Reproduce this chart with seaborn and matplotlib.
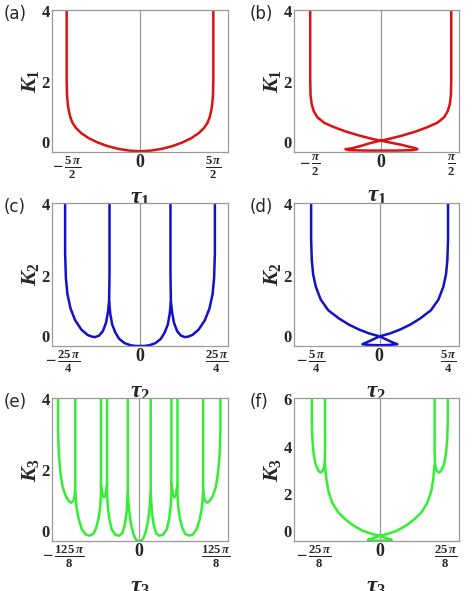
import numpy as np
import matplotlib
matplotlib.use("Agg")
import matplotlib.pyplot as plt
import seaborn as sns

sns.set_style("white")
plt.rcParams['font.family'] = ['DejaVu Sans']
plt.rcParams['mathtext.fontset'] = 'custom'
plt.rcParams['mathtext.rm'] = 'Liberation Serif:bold'
plt.rcParams['mathtext.it'] = 'Liberation Serif:bold:italic'
plt.rcParams['mathtext.bf'] = 'Liberation Serif:bold'

# curve data, x in units of the outer tick value
# (a) left half
a_x = [-1.0, -1.0, -0.995, -0.985, -0.97, -0.95, -0.92, -0.87, -0.8, -0.7, -0.58, -0.45, -0.3, -0.15, 0.0]
a_y = [4.0, 2.0, 1.6, 1.35, 1.15, 0.98, 0.82, 0.67, 0.53, 0.39, 0.27, 0.17, 0.09, 0.04, 0.02]

# (b) one continuous line: left branch -> right tip -> bottom -> left tip -> right branch
b_x = [-1.0, -1.0, -0.995, -0.98, -0.95, -0.9, -0.8, -0.65, -0.5, -0.3, -0.1, 0.0, 0.15, 0.3, 0.42, 0.5, 0.52,
       0.45, 0.2, 0.0, -0.2, -0.45, -0.5,
       -0.42, -0.3, -0.15, 0.0, 0.1, 0.3, 0.5, 0.65, 0.8, 0.9, 0.95, 0.98, 0.995, 1.0, 1.0]
b_y = [4.0, 2.0, 1.6, 1.35, 1.15, 0.98, 0.82, 0.69, 0.58, 0.46, 0.36, 0.32, 0.26, 0.2, 0.14, 0.1, 0.08,
       0.05, 0.04, 0.04, 0.04, 0.05, 0.08,
       0.1, 0.16, 0.25, 0.32, 0.36, 0.46, 0.58, 0.69, 0.82, 0.98, 1.15, 1.35, 1.6, 2.0, 4.0]

# (c) left-half pieces
c_outer_x = [-0.97, -0.97, -0.96, -0.94, -0.9, -0.84, -0.76, -0.68, -0.62, -0.58, -0.53, -0.48, -0.44, -0.415, -0.4, -0.395, -0.395]
c_outer_y = [4.0, 2.6, 1.9, 1.45, 1.05, 0.72, 0.46, 0.31, 0.26, 0.25, 0.29, 0.42, 0.65, 0.95, 1.25, 2.0, 4.0]
c_mid_x = [-0.4, -0.385, -0.36, -0.32, -0.27, -0.2, -0.12, -0.05, 0.0]
c_mid_y = [1.25, 0.9, 0.6, 0.38, 0.2, 0.08, 0.02, 0.0, 0.0]

# (d)
d_x = [-1.0, -1.0, -0.99, -0.97, -0.93, -0.86, -0.75, -0.6, -0.45, -0.3, -0.15, 0.0, 0.1, 0.18, 0.26,
       0.15, 0.0, -0.15, -0.25,
       -0.18, -0.1, 0.0, 0.15, 0.3, 0.45, 0.6, 0.75, 0.86, 0.93, 0.97, 0.99, 1.0, 1.0]
d_y = [4.0, 3.0, 2.4, 2.0, 1.65, 1.3, 1.0, 0.78, 0.6, 0.46, 0.35, 0.27, 0.18, 0.11, 0.05,
       0.03, 0.02, 0.03, 0.05,
       0.11, 0.18, 0.27, 0.35, 0.46, 0.6, 0.78, 1.0, 1.3, 1.65, 2.0, 2.4, 3.0, 4.0]

# (e) left-half pieces
e_p1_x = [-1.06, -1.06, -1.05, -1.03, -1.0, -0.96, -0.92, -0.89, -0.86, -0.845, -0.835, -0.835]
e_p1_y = [4.0, 3.0, 2.4, 1.9, 1.5, 1.25, 1.12, 1.07, 1.12, 1.25, 1.5, 4.0]
e_p2_x = [-0.835, -0.82, -0.79, -0.75, -0.7, -0.65, -0.6, -0.56, -0.53, -0.51, -0.5, -0.5]
e_p2_y = [1.4, 0.95, 0.6, 0.33, 0.18, 0.15, 0.2, 0.38, 0.65, 0.95, 1.3, 4.0]
e_p3_x = [-0.5, -0.48, -0.46, -0.44, -0.42]
e_p3_y = [1.6, 1.3, 1.22, 1.3, 1.6]
e_p4_x = [-0.42, -0.42, -0.41, -0.39, -0.36, -0.31, -0.26, -0.22, -0.19, -0.165, -0.15, -0.15]
e_p4_y = [4.0, 1.3, 0.95, 0.6, 0.33, 0.17, 0.15, 0.22, 0.45, 0.8, 1.4, 4.0]
e_p5_x = [-0.15, -0.135, -0.11, -0.08, -0.05, -0.02, 0.0]
e_p5_y = [1.4, 0.9, 0.5, 0.22, 0.06, 0.0, 0.0]

# (f)
f_top_x = [-1.03, -1.03, -1.02, -1.0, -0.97, -0.93, -0.9, -0.87, -0.85, -0.835, -0.83, -0.83]
f_top_y = [6.0, 5.0, 4.2, 3.6, 3.2, 2.95, 2.87, 2.92, 3.05, 3.3, 3.8, 6.0]
f_main_x = [-0.83, -0.81, -0.78, -0.72, -0.63, -0.52, -0.4, -0.26, -0.12, 0.0, 0.08, 0.14, 0.18,
            0.1, 0.0, -0.1, -0.18,
            -0.14, -0.08, 0.0, 0.12, 0.26, 0.4, 0.52, 0.63, 0.72, 0.78, 0.81, 0.83]
f_main_y = [3.2, 2.6, 2.1, 1.6, 1.2, 0.9, 0.65, 0.43, 0.3, 0.22, 0.14, 0.08, 0.05,
            0.02, 0.01, 0.02, 0.05,
            0.08, 0.14, 0.22, 0.3, 0.43, 0.65, 0.9, 1.2, 1.6, 2.1, 2.6, 3.2]

def mirror(x, y):
    return [-v for v in x[::-1]], y[::-1]

RED, BLUE, GREEN = '#dd1111', '#1111cc', '#33ee33'

fig = plt.figure(figsize=(4.74, 5.91), dpi=100)
W, H = 474, 591
rows = [(10, 152), (203, 346), (398, 541)]
cols = [(52, 228), (294, 459)]

panels = [
    ("(a)", RED, r"$K_1$", r"$\tau_1$", (5, 2), (-1.2, 1.2), 4, [(a_x, a_y), mirror(a_x, a_y)]),
    ("(b)", RED, r"$K_1$", r"$\tau_1$", (1, 2), (-1.23, 1.11), 4, [(b_x, b_y)]),
    ("(c)", BLUE, r"$K_2$", r"$\tau_2$", (25, 4), (-1.14, 1.14), 4,
     [(c_outer_x, c_outer_y), mirror(c_outer_x, c_outer_y), (c_mid_x, c_mid_y), mirror(c_mid_x, c_mid_y)]),
    ("(d)", BLUE, r"$K_2$", r"$\tau_2$", (5, 4), (-1.25, 1.16), 4, [(d_x, d_y)]),
    ("(e)", GREEN, r"$K_3$", r"$\tau_3$", (125, 8), (-1.14, 1.16), 4,
     sum([[(px, py), mirror(px, py)] for px, py in
          [(e_p1_x, e_p1_y), (e_p2_x, e_p2_y), (e_p3_x, e_p3_y), (e_p4_x, e_p4_y), (e_p5_x, e_p5_y)]], [])),
    ("(f)", GREEN, r"$K_3$", r"$\tau_3$", (25, 8), (-1.3, 1.2), 6,
     [(f_top_x, f_top_y), mirror(f_top_x, f_top_y), (f_main_x, f_main_y)]),
]

for i, (lab, color, ylab, xlab, (num, den), xl, ymax, pieces) in enumerate(panels):
    r, c = divmod(i, 2)
    (y0, y1), (x0, x1) = rows[r], cols[c]
    ax = fig.add_axes([x0 / W, 1 - y1 / H, (x1 - x0) / W, (y1 - y0) / H])
    L = num * np.pi / den
    ax.axvline(0, color='#999999', lw=0.9, zorder=0)
    for px, py in pieces:
        sns.lineplot(x=np.array(px) * L, y=py, sort=False, estimator=None, color=color, lw=1.8, ax=ax)
    ax.set_xlim(xl[0] * L, xl[1] * L)
    ax.set_ylim(0, ymax)
    ax.set_xticks([-L, 0, L])
    numtxt = r"\pi" if num == 1 else r"%d\,\pi" % num
    ax.set_xticklabels([r"$-\,\frac{%s}{%d}$" % (numtxt, den), r"$0$", r"$\frac{%s}{%d}$" % (numtxt, den)], fontsize=13)
    ax.set_yticks(range(0, ymax + 1, 2))
    ax.set_yticklabels([r"$%d$" % v for v in range(0, ymax + 1, 2)], fontsize=12)
    ax.tick_params(axis='x', length=0, pad=1)
    ax.tick_params(axis='y', length=0, pad=1)
    for t in ax.get_yticklabels()[:1]:
        t.set_va('bottom')
    for s in ax.spines.values():
        s.set_color('#999999')
        s.set_linewidth(0.9)
    ax.set_ylabel(ylab, fontsize=16, labelpad=0)
    ax.set_xlabel(xlab, fontsize=17, labelpad=3)
    fig.text((x0 - 48 if c == 0 else x0 - 44) / W, 1 - (y0 + 4) / H, lab, fontsize=12, va='center')

fig.savefig("out.png", dpi=100)
